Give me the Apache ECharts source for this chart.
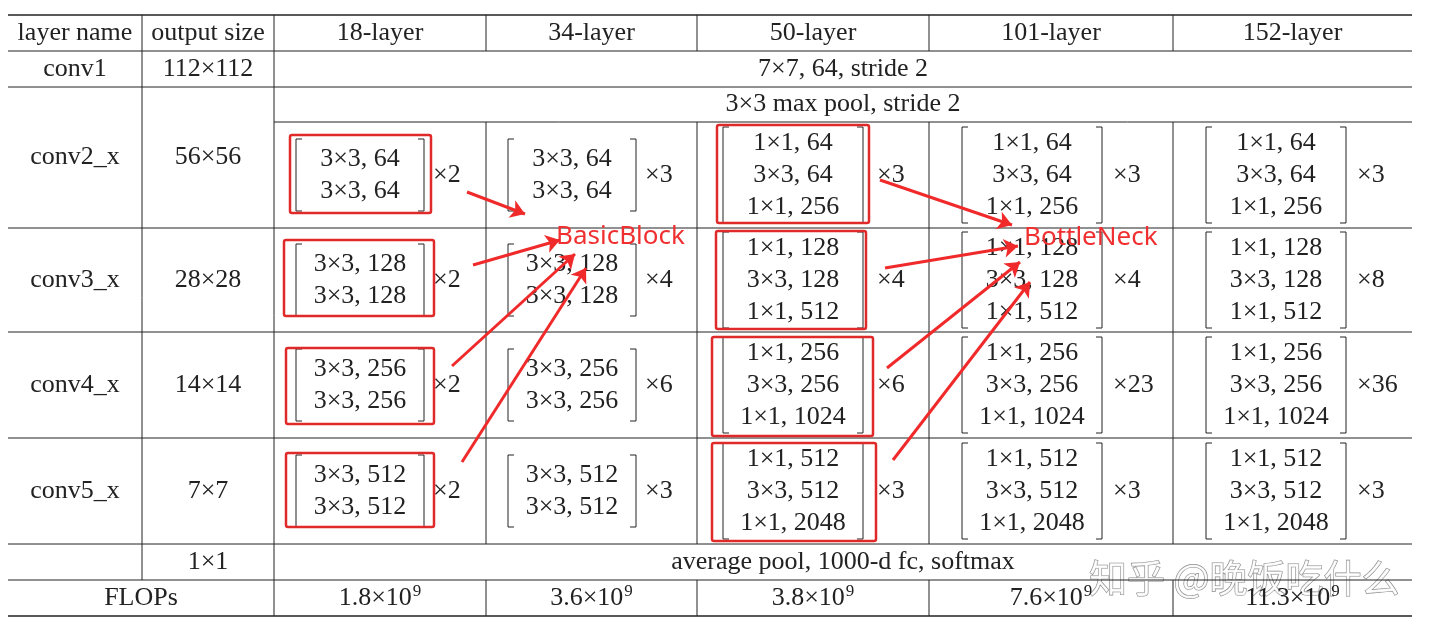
<!DOCTYPE html>
<html><head><meta charset="utf-8">
<script src="https://cdn.jsdelivr.net/npm/echarts@6/dist/echarts.min.js"></script>
<style>html,body{margin:0;background:#fff}#c{width:1440px;height:635px}</style>
</head><body><div id="c"></div>
<script>
// table content
const depths = ['18-layer', '34-layer', '50-layer', '101-layer', '152-layer'];
const layerNames = ['conv2_x', 'conv3_x', 'conv4_x', 'conv5_x'];
const outputSizes = ['56×56', '28×28', '14×14', '7×7'];
const basicBlocks = [['3×3, 64', '3×3, 64'], ['3×3, 128', '3×3, 128'], ['3×3, 256', '3×3, 256'], ['3×3, 512', '3×3, 512']];
const bottleBlocks = [['1×1, 64', '3×3, 64', '1×1, 256'], ['1×1, 128', '3×3, 128', '1×1, 512'],
                      ['1×1, 256', '3×3, 256', '1×1, 1024'], ['1×1, 512', '3×3, 512', '1×1, 2048']];
const repeats = [[2, 2, 2, 2], [3, 4, 6, 3], [3, 4, 6, 3], [3, 4, 23, 3], [3, 8, 36, 3]];
const flops = ['1.8', '3.6', '3.8', '7.6', '11.3'];

// layout (pixel-space axes)
const colEdges = [8, 142, 274, 486, 697, 929, 1173, 1412];
const blockRowY = [175, 280, 385, 491];
const blockX = [360, 572, 793, 1032, 1276];
const repeatX = [433, 645, 877, 1113, 1357];

// annotations
const redBoxes = [[290, 135, 431, 213], [284, 240, 434, 316], [286, 348, 434, 424], [286, 453, 434, 527],
                  [717, 125, 869, 223], [716, 231, 866, 329], [712, 337, 873, 436], [712, 443, 876, 541]];
const arrows = [[[467, 192], [525, 214]], [[473, 265], [560, 240]], [[452, 366], [575, 254]], [[462, 462], [586, 268]],
                [[880, 180], [1012, 225]], [[885, 268], [1018, 246]], [[887, 368], [1020, 262]], [[893, 460], [1030, 282]]];
const arrowLabels = [['BasicBlock', 556, 237], ['BottleNeck', 1024, 238]];

const serif = '"Liberation Serif", "DejaVu Serif", serif';
const FS = 26;
const texts = [];
const segs = [];
function T(x, y, t, opt) { texts.push(Object.assign({x, y, t}, opt || {})); }
function S(x1, y1, x2, y2, w) { segs.push([x1, y1, x2, y2, w || 1]); }

// headers
const colCenters = colEdges.slice(0, -1).map((e, i) => (e + colEdges[i + 1]) / 2);
T(colCenters[0], 33, 'layer name'); T(colCenters[1], 33, 'output size');
depths.forEach((d, i) => T(colCenters[i + 2], 33, d));
T(colCenters[0], 69, 'conv1'); T(colCenters[1], 69, '112×112');
T(843, 69, '7×7, 64, stride 2');
T(843, 104, '3×3 max pool, stride 2');
layerNames.forEach((n, r) => { T(colCenters[0], blockRowY[r] - 18 * (r === 0), n); T(colCenters[1], blockRowY[r] - 18 * (r === 0), outputSizes[r]); });
T(colCenters[1], 562, '1×1'); T(843, 562, 'average pool, 1000-d fc, softmax');
T(141, 598, 'FLOPs');
flops.forEach((f, i) => T(colCenters[i + 2], 598, '{a|' + f + '×10}{s|9}', {rich: true}));

// blocks with brackets
for (let c = 0; c < 5; c++) {
  for (let r = 0; r < 4; r++) {
    const lines = c < 2 ? basicBlocks[r] : bottleBlocks[r];
    const cy = blockRowY[r], n = lines.length;
    lines.forEach((l, k) => T(blockX[c], cy + (k - (n - 1) / 2) * 32, l));
    const hw = c < 2 ? 64 : 70, hh = n === 2 ? 36 : 48;
    const xl = blockX[c] - hw, xr = blockX[c] + hw;
    S(xl, cy - hh, xl, cy + hh); S(xl, cy - hh, xl + 6, cy - hh); S(xl, cy + hh, xl + 6, cy + hh);
    S(xr, cy - hh, xr, cy + hh); S(xr, cy - hh, xr - 6, cy - hh); S(xr, cy + hh, xr - 6, cy + hh);
    T(repeatX[c], cy, '×' + repeats[c][r], {align: 'left'});
  }
}

// table rules
[15, 616].forEach(y => S(8, y, 1412, y, 1.6));
[51, 87, 228, 332, 438, 544, 580].forEach(y => S(8, y, 1412, y));
S(274, 122, 1412, 122);
S(142, 15, 142, 580); S(274, 15, 274, 616);
colEdges.slice(3, 7).forEach(x => { S(x, 15, x, 51); S(x, 122, x, 544); S(x, 580, x, 616); });

arrowLabels.forEach(a => T(a[1], a[2], a[0], {align: 'left', color: '#f03030', font: '26px "Noto Sans", sans-serif'}));

const chart = echarts.init(document.getElementById('c'));
chart.setOption({
  animation: false,
  grid: {left: 0, right: 0, top: 0, bottom: 0},
  xAxis: {type: 'value', min: 0, max: 1440, show: false},
  yAxis: {type: 'value', min: 0, max: 635, inverse: true, show: false},
  series: [
    {
      type: 'custom', data: segs.map(s => s.slice(0, 4)),
      renderItem: (p, api) => {
        const a = api.coord([api.value(0), api.value(1)]), b = api.coord([api.value(2), api.value(3)]);
        return {type: 'line', shape: {x1: a[0], y1: a[1], x2: b[0], y2: b[1]}, style: {stroke: '#222', lineWidth: segs[p.dataIndex][4]}};
      }
    },
    {
      type: 'custom', data: redBoxes,
      renderItem: (p, api) => {
        const a = api.coord([api.value(0), api.value(1)]), b = api.coord([api.value(2), api.value(3)]);
        return {type: 'rect', shape: {x: a[0], y: a[1], width: b[0] - a[0], height: b[1] - a[1], r: 2}, style: {fill: 'none', stroke: '#e02a2a', lineWidth: 2.5}};
      }
    },
    {
      type: 'custom', data: texts.map(t => [t.x, t.y]),
      renderItem: (p, api) => {
        const d = texts[p.dataIndex], a = api.coord([api.value(0), api.value(1)]);
        const style = {x: a[0], y: a[1], text: d.t, align: d.align || 'center', verticalAlign: 'middle',
                       font: d.font || FS + 'px ' + serif, fill: d.color || '#222'};
        if (d.rich) style.rich = {a: {font: FS + 'px ' + serif, fill: '#222'}, s: {font: '17px ' + serif, fill: '#222', verticalAlign: 'top', padding: [0, 0, 12, 1]}};
        return {type: 'text', style};
      }
    },
    {
      type: 'lines', coordinateSystem: 'cartesian2d', symbol: ['none', 'arrow'], symbolSize: 14,
      lineStyle: {color: '#f02a2a', width: 3, opacity: 1},
      data: arrows.map(a => ({coords: a}))
    }
  ],
  graphic: [{type: 'text', right: 40, bottom: 38,
    style: {text: '知乎 @晚饭吃什么', font: '38px "Noto Sans CJK SC", sans-serif', fill: 'rgba(255,255,255,0.85)', stroke: '#8a8a8a', lineWidth: 1.2}}]
});
</script></body></html>
